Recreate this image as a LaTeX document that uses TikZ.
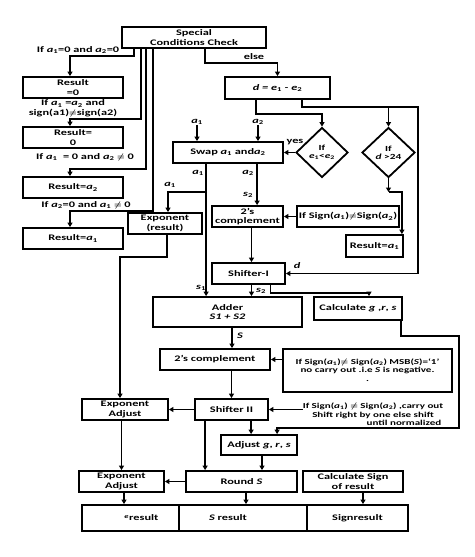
\documentclass[tikz,border=0pt]{standalone}
\usepackage{fontspec}
\setmainfont[FakeStretch=1.45]{Carlito}
\usetikzlibrary{arrows.meta,shapes.geometric}
\newcommand\myA[1]{\textit{a}\textsubscript{#1}}
\newcommand\myS[1]{\textit{s}\textsubscript{#1}}
\newcommand\myE[1]{\textit{e}\textsubscript{#1}}
\newcommand\myfs{\fontsize{8.5}{9.5}\selectfont\bfseries}
\newcommand\mysm{\fontsize{7.8}{8.3}\selectfont\bfseries}
\newcommand\myne{\ensuremath{\boldsymbol{\neq}}}
\usepackage{amsmath}
\tikzset{
  box/.style={draw, line width=1.8pt, inner sep=0pt, align=center, font=\myfs},
  lbl/.style={inner sep=0pt, align=center, font=\myfs},
  arr/.style={line width=1.8pt, -{Triangle[length=4.5pt,width=5pt]}},
  ln/.style={line width=1.8pt},
  dia/.style={draw, diamond, line width=1.8pt, inner sep=0pt, aspect=1, align=center, font=\mysm}
}
\begin{document}
\begin{tikzpicture}[x=1pt,y=-1pt]
\fill[white] (0,0) rectangle (474,557);
\useasboundingbox (0,0) rectangle (474,557);
% left column
\node[box,minimum width=144,minimum height=21] (scc) at (194,37.5) {Special\\Conditions Check};
\node[box,minimum width=100,minimum height=21] (r0) at (73,87.5) {Result\\=0};
\node[box,minimum width=100,minimum height=21] (r0b) at (73,137.5) {Result=\\0};
\node[box,minimum width=100,minimum height=21] (ra2) at (73,187.5) {Result=\myA{2}};
\node[box,minimum width=100,minimum height=21] (ra1) at (73,238.5) {Result=\myA{1}};
\node[lbl] (l1) at (78,50) {If \myA{1}=0 and \myA{2}=0};
\node[lbl] (l2) at (73,108.5) {If \myA{1} =\myA{2} and\\sign(a1)\myne sign(a2)};
\node[lbl] (l3) at (85,157) {If \myA{1}\ \ = 0 and \myA{2}\ \myne\ 0};
\node[lbl] (l4) at (86,205) {If \myA{2}=0 and \myA{1}\ \myne\ 0};
% right upper
\node[box,minimum width=105,minimum height=22] (dbox) at (277.5,88) {\textit{d = e}\textsubscript{1} \textit{- e}\textsubscript{2}};
\node[dia,minimum width=52,minimum height=50] (dia1) at (322,152.5) {If\\\myE{1}<\myE{2}};
\node[dia,minimum width=53,minimum height=50] (dia2) at (388.5,152.5) {If\\\textit{d} >24};
\node[box,minimum width=110,minimum height=21] (swap) at (228,152.5) {Swap \myA{1} and\myA{2}};
\node[box,minimum width=57,minimum height=22] (rr) at (374.5,246) {Result=\myA{1}};
\node[box,minimum width=74,minimum height=21] (expres) at (165,223.5) {Exponent\\(result)};
\node[box,minimum width=71,minimum height=21] (tc1) at (247.5,216.5) {2's\\complement};
\node[box,minimum width=102,minimum height=21] (sgn1) at (348,216.5) {If Sign(\myA{1})\myne Sign(\myA{2})};
\node[box,minimum width=73,minimum height=21] (sh1) at (248.5,273.5) {Shifter-I};
\node[box,minimum width=149,minimum height=30] (adder) at (227.5,312) {Adder\\\textit{S1 + S2}};
\node[box,minimum width=88,minimum height=23] (calc) at (358,308.5) {Calculate \textit{g} ,\textit{r}, \textit{s}};
\node[box,minimum width=110,minimum height=21] (tc2) at (215,359.5) {2's complement};
\node[box,minimum width=169,minimum height=43,font=\fontsize{7.6}{7.4}\selectfont\bfseries] (msb) at (367.5,370.5) {If Sign(\myA{1})\myne\ Sign(\myA{2}) MSB(\textit{S})=`1'\\no carry out .i.e \textit{S} is negative.\\[2pt].};
\node[box,minimum width=86,minimum height=21] (exa1) at (125,409.5) {Exponent\\Adjust};
\node[box,minimum width=73,minimum height=21] (sh2) at (231.5,409.5) {Shifter II};
\node[lbl,font=\fontsize{7.6}{8.4}\selectfont\bfseries] (note) at (373,414.5) {If Sign(\myA{1}) \myne\ Sign(\myA{2}) ,carry out\\Shift right by one else shift\hspace*{14pt}\\\hspace*{62pt}until normalized};
\node[box,minimum width=76,minimum height=20] (adj) at (259,445) {Adjust \textit{g}, \textit{r}, \textit{s}};
\node[box,minimum width=85,minimum height=21] (exa2) at (121.5,481.5) {Exponent\\Adjust};
\node[box,minimum width=111,minimum height=21] (round) at (241.5,481.5) {Round \textit{S}};
\node[box,minimum width=100,minimum height=21] (csign) at (353,481.5) {Calculate Sign\\of result};
\node[box,minimum width=97,minimum height=26] (eres) at (130.5,518) {\hspace*{22pt}\textsuperscript{\textit{e}}result};
\node[box,minimum width=128,minimum height=26] (sres) at (243,518) {\textit{S} result\hspace*{30pt}};
\node[box,minimum width=101,minimum height=26] (signres) at (357.5,518) {Signresult};
% small labels
\node[lbl] (lelse) at (254,57) {else};
\node[lbl] (lyes) at (295,142) {yes};
\node[lbl] (in1) at (197,122) {\myA{1}};
\node[lbl] (in2) at (258,122) {\myA{2}};
\node[lbl] (la1) at (198,173) {\myA{1}};
\node[lbl] (le1) at (170,185) {\myA{1}};
\node[lbl] (ls1) at (201,288) {\myS{1}};
\node[lbl] (la2) at (248,173) {\myA{2}};
\node[lbl] (ls2a) at (248,195) {\myS{2}};
\node[lbl] (ls2b) at (261,291) {\myS{2}};
\node[lbl] (ld) at (297,266) {\textit{d}};
\node[lbl] (lS) at (240,336) {\textit{S}};
% connectors: special conditions
\draw[arr] ([xshift=13pt]scc.south west) -- ++(0,7) -| ([xshift=-3pt]r0.north);
\draw[arr] ([xshift=20pt]scc.south west) -- ++(0,70) -| ([xshift=-3pt]r0b.north);
\draw[arr] ([xshift=25pt]scc.south west) -- ++(0,120) -| ([xshift=-3pt]ra2.north);
\draw[arr] ([xshift=32pt]scc.south west) -- ++(0,162) -| ([xshift=-3pt]ra1.north);
\draw[arr] ([xshift=84pt]scc.south west) -- ++(0,14) -| (dbox.north);
% d box
\draw[arr] ([xshift=32pt]dbox.south west) -- ++(0,14) -| (dia1.north);
\coordinate (rt) at (418,107);
\draw[arr] ([xshift=78pt]dbox.south west) |- (rt) |- (sh1.east);
\draw[arr] (dia2.north |- rt) -- (dia2.north);
\draw[arr] (dia1.west) -- (swap.east);
\coordinate (d2a) at (388.5,192);
\draw[arr] (dia2.south) -- (d2a);
\draw[arr] (d2a) -| ([xshift=-2pt]rr.north east);
% swap
\draw[arr] (in1.south) -- (in1.south |- swap.north);
\draw[arr] (in2.south) -- (in2.south |- swap.north);
\path ([xshift=34pt]swap.south west) coordinate (p1);
\draw[arr] (p1) -- (p1 |- adder.north);
\coordinate (p1b) at (207,192);
\draw[arr] (p1b) -| ([xshift=3pt]expres.north);
\path ([xshift=85pt]swap.south west) coordinate (p2);
\draw[arr] (p2) -- (p2 |- tc1.north);
\draw[arr] (sgn1.west) -- (tc1.east);
\path ([xshift=4pt]tc1.south) coordinate (p3);
\draw[arr] (p3) -- (p3 |- sh1.north);
\path (p3 |- sh1.south) coordinate (p4);
\draw[arr] (p4) -- (p4 |- adder.north);
\draw[arr] ([xshift=22pt]sh1.south) -- ++(0,8) -| ([xshift=11pt]calc.north);
% adder and below
\path ([xshift=4.5pt]adder.south) coordinate (p5);
\draw[arr] (p5) -- (p5 |- tc2.north);
\coordinate (c1) at (459,428);
\draw[arr] ([xshift=-2pt]calc.south east) -- ++(0,15) -| (c1) -| ([xshift=57pt]adj.north west);
\draw[arr] (msb.west |- tc2.east) -- (tc2.east);
\draw[arr] (sh2.north |- tc2.south) -- (sh2.north);
\draw[arr] (sh2.west) -- (exa1.east);
\draw[arr] (note.west |- sh2.east) -- (sh2.east);
\path ([xshift=57pt]sh2.south west) coordinate (p6);
\draw[arr] (p6) -- (p6 |- adj.north);
\path ([xshift=11pt]sh2.south west) coordinate (p7);
\draw[arr] (p7) -- (p7 |- round.north);
\draw[arr] ([xshift=40pt]expres.south west) -- ++(0,22) -| ([xshift=-5pt]exa1.north);
\draw[arr] (exa2.north |- exa1.south) -- (exa2.north);
\path ([xshift=3pt]adj.south) coordinate (p8);
\draw[arr] (p8) -- (p8 |- round.north);
\draw[arr] (round.west) -- (exa2.east);
\draw[arr] ([xshift=2.5pt]exa2.south) -- ([xshift=2.5pt]exa2.south |- eres.north);
\draw[arr] ([xshift=4.5pt]round.south) -- ([xshift=4.5pt]round.south |- sres.north);
\draw[arr] ([xshift=10pt]csign.south) -- ([xshift=10pt]csign.south |- signres.north);
\end{tikzpicture}
\end{document}
